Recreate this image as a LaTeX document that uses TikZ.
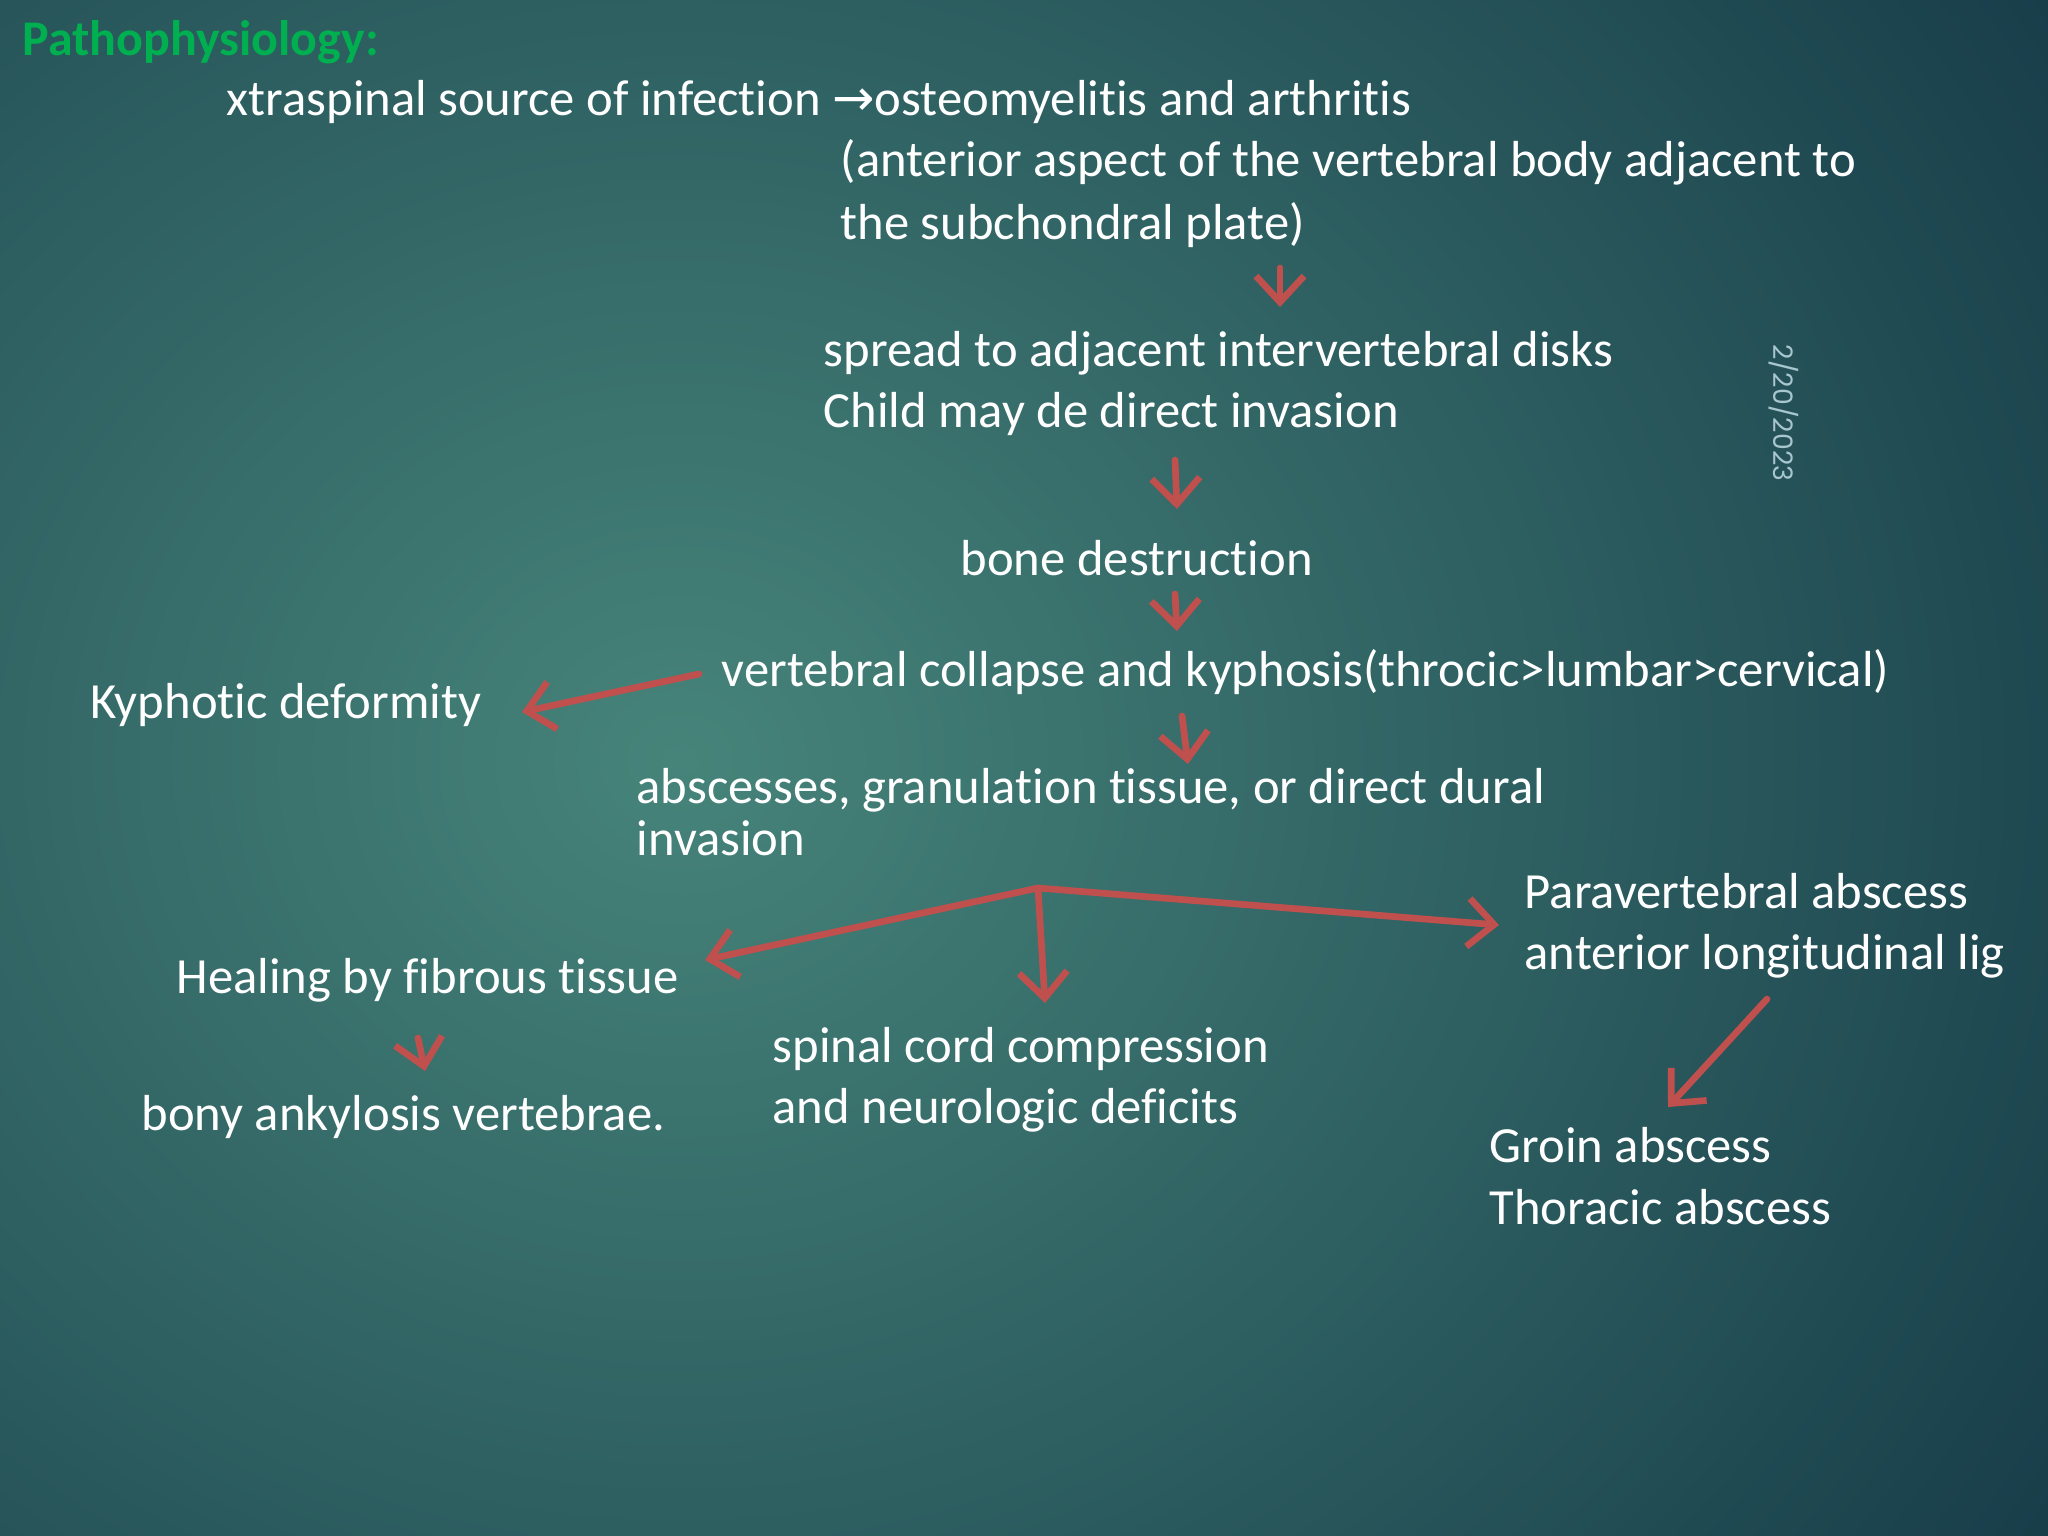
\documentclass[tikz,border=0pt]{standalone}
\usepackage{fontspec}
\setmainfont{Carlito}[Ligatures=NoCommon]
\newfontfamily\datefont{Poppins}
\newfontfamily\symfont{DejaVu Sans}
\usetikzlibrary{arrows.meta}
\definecolor{bgdark}{HTML}{143846}
\definecolor{bgglow}{HTML}{46847A}
\definecolor{arrowred}{HTML}{C0504D}
\definecolor{titlegreen}{HTML}{00B050}
\definecolor{datecol}{HTML}{A8C6CE}

\begin{document}
\begin{tikzpicture}[x=0.01cm, y=-0.01cm,
  txt/.style={text=white, font=\fontsize{14.4}{17}\selectfont, anchor=base west, inner sep=0pt},
  flow/.style={draw=arrowred, line width=1.9pt, line cap=round, line join=round,
    -{Straight Barb[length=2.6mm, width=4.8mm]}}]
  \useasboundingbox (0,0) rectangle (2048,1536);
  \fill[bgdark] (0,0) rectangle (2048,1536);
  \begin{scope}
    \clip (0,0) rectangle (2048,1536);
    \shade[inner color=bgglow, outer color=bgdark] (680,760) ellipse (1750 and 1550);
  \end{scope}

  \node[anchor=base west, inner sep=0pt, text=titlegreen, font=\fontsize{14.2}{17}\selectfont\bfseries]
    (title) at (22,55) {Pathophysiology:};
  \node[txt] (src) at (226,115) {xtraspinal source of infection {\symfont→}osteomyelitis and arthritis};
  \node[txt] (site1) at (840,176) {(anterior aspect of the vertebral body adjacent to};
  \node[txt] (site2) at (840,239) {the subchondral plate)};
  \node[txt] (spread1) at (823,366) {spread to adjacent intervertebral disks};
  \node[txt] (spread2) at (823,427) {Child may de direct invasion};
  \node[txt] (destr) at (960,575) {bone destruction};
  \node[txt] (collapse) at (721,686) {vertebral collapse and kyphosis(throcic>lumbar>cervical)};
  \node[txt] (kypho) at (90,718) {Kyphotic deformity};
  \node[txt] (absc1) at (636,803) {abscesses, granulation tissue, or direct dural};
  \node[txt] (absc2) at (636,855) {invasion};
  \node[txt] (heal) at (176,993) {Healing by fibrous tissue};
  \node[txt] (bony) at (141,1130) {bony ankylosis vertebrae.};
  \node[txt] (cord1) at (772,1062) {spinal cord compression};
  \node[txt] (cord2) at (772,1123) {and neurologic deficits};
  \node[txt] (para1) at (1524,908) {Paravertebral abscess};
  \node[txt] (para2) at (1524,969) {anterior longitudinal lig};
  \node[txt] (groin) at (1489,1162) {Groin abscess};
  \node[txt] (thor) at (1489,1224) {Thoracic abscess};
  \node[text=datecol, rotate=-90, inner sep=0pt, font=\datefont\fontsize{7.6}{9}\selectfont]
    (date) at (1784,413) {2/20/2023};

  \coordinate (s1a) at (1280,268);  \coordinate (s1b) at (1280,307);
  \coordinate (s2a) at (1175,460);  \coordinate (s2b) at (1177,509);
  \coordinate (s3a) at (1175,594);  \coordinate (s3b) at (1177,631);
  \coordinate (kya) at (699,674);   \coordinate (kyb) at (522,712);
  \coordinate (s4a) at (1182,716);  \coordinate (s4b) at (1188,764);
  \coordinate (fork) at (1038,888);
  \coordinate (toheal) at (705,960);
  \coordinate (tocord) at (1045,1003);
  \coordinate (topara) at (1499,925);
  \coordinate (s5a) at (418,1038);  \coordinate (s5b) at (425,1071);
  \coordinate (gra) at (1767,999);  \coordinate (grb) at (1668,1107);

  \draw[flow] (s1a) -- (s1b);
  \draw[flow] (s2a) -- (s2b);
  \draw[flow] (s3a) -- (s3b);
  \draw[flow] (kya) -- (kyb);
  \draw[flow] (s4a) -- (s4b);
  \draw[flow] (fork) -- (toheal);
  \draw[flow] (fork) -- (tocord);
  \draw[flow] (fork) -- (topara);
  \draw[flow] (s5a) -- (s5b);
  \draw[flow] (gra) -- (grb);
\end{tikzpicture}
\end{document}
